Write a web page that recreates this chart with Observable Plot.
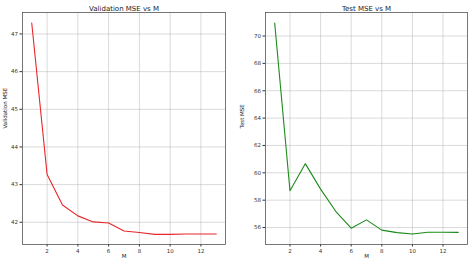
<!DOCTYPE html>
<html>
<head>
<meta charset="utf-8">
<script src="https://cdn.jsdelivr.net/npm/d3@7"></script>
<script src="https://cdn.jsdelivr.net/npm/@observablehq/plot@0.6"></script>
<style>
  html, body { margin: 0; padding: 0; background: #fff; }
  #wrap { display: flex; width: 474px; height: 264px; }
  svg { font-family: "DejaVu Sans", sans-serif; }
</style>
</head>
<body>
<div id="wrap"></div>
<script>
const M = [1, 2, 3, 4, 5, 6, 7, 8, 9, 10, 11, 12, 13];
const validationMSE = [47.29, 43.27, 42.46, 42.17, 42.01, 41.98, 41.77, 41.73, 41.68, 41.68, 41.69, 41.69, 41.69];
const testMSE = [70.95, 58.69, 60.67, 58.81, 57.17, 55.95, 56.56, 55.81, 55.63, 55.53, 55.66, 55.65, 55.65];
const xTicks = [2, 4, 6, 8, 10, 12];
const valTicks = [42, 43, 44, 45, 46, 47];
const testTicks = [56, 58, 60, 62, 64, 66, 68, 70];

function panel({values, color, title, ylabel, yTicks, marginLeft, marginRight, yDomain}) {
  const data = M.map((m, i) => ({m, v: values[i]}));
  return Plot.plot({
    width: 237,
    height: 264,
    marginTop: 12,
    marginBottom: 20,
    marginLeft,
    marginRight,
    style: {fontSize: "5.5px", fontFamily: "DejaVu Sans, sans-serif", color: "#333", background: "#fff"},
    x: {domain: [0.4, 13.6], label: null},
    y: {domain: yDomain, label: null},
    marks: [
      Plot.gridX(xTicks, {stroke: "#b0b0b0", strokeOpacity: 0.6, strokeWidth: 0.8}),
      Plot.gridY(yTicks, {stroke: "#b0b0b0", strokeOpacity: 0.6, strokeWidth: 0.8}),
      Plot.axisX({ticks: xTicks, tickSize: 2.5, tickPadding: 2, tickFormat: d3.format("d"), label: null}),
      Plot.axisY({ticks: yTicks, tickSize: 2.5, tickPadding: 2, tickFormat: d3.format("d"), label: null}),
      Plot.line(data, {x: "m", y: "v", stroke: color, strokeWidth: 1.1}),
      Plot.frame({stroke: "#555", strokeWidth: 0.8}),
      Plot.text([title], {frameAnchor: "top", dy: -6, fontSize: 7, fill: "#222"}),
      Plot.text(["M"], {frameAnchor: "bottom", dy: 13, fontSize: 5.5, fill: "#222"}),
      Plot.text([ylabel], {frameAnchor: "left", dx: -marginLeft + 5, rotate: -90, fontSize: 5.5, fill: "#222"})
    ]
  });
}

const wrap = document.getElementById("wrap");
wrap.appendChild(panel({
  values: validationMSE, color: "#e8262b", title: "Validation MSE vs M", ylabel: "Validation MSE",
  yTicks: valTicks, marginLeft: 22, marginRight: 12, yDomain: [41.41, 47.57]
}));
wrap.appendChild(panel({
  values: testMSE, color: "#1a8a1a", title: "Test MSE vs M", ylabel: "Test MSE",
  yTicks: testTicks, marginLeft: 28, marginRight: 7, yDomain: [54.76, 71.72]
}));
</script>
</body>
</html>
